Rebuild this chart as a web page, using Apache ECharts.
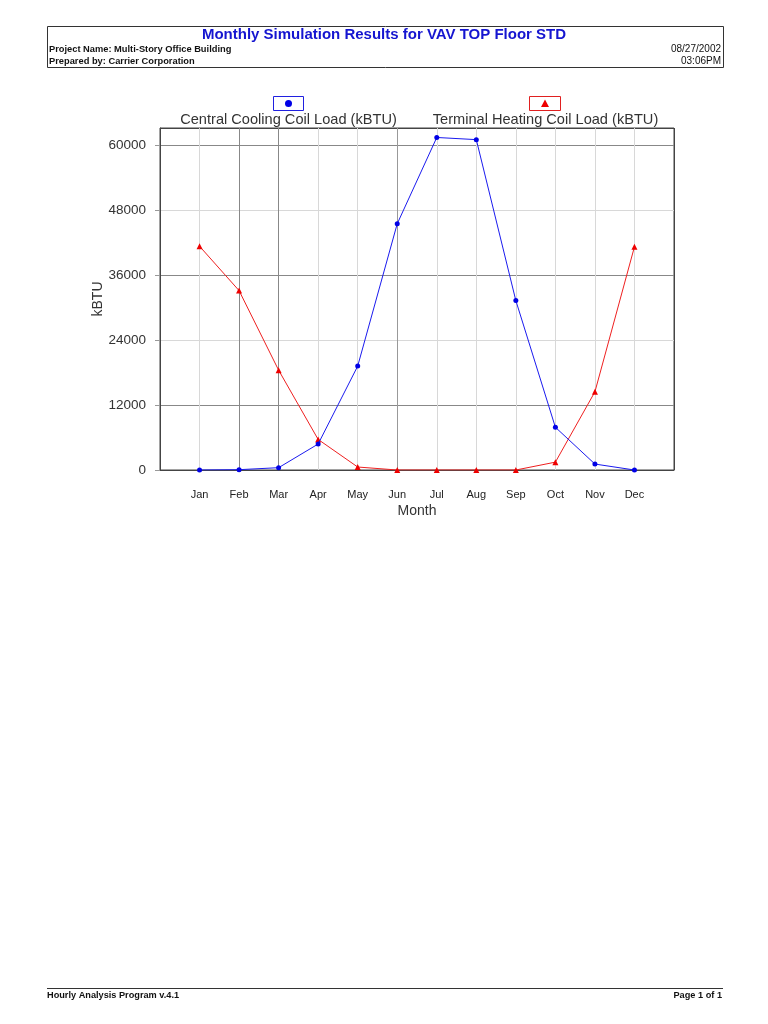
<!DOCTYPE html>
<html>
<head>
<meta charset="utf-8">
<script src="https://cdn.jsdelivr.net/npm/echarts@6/dist/echarts.min.js"></script>
<style>
html,body{margin:0;padding:0;background:#fff;}
#chart{width:768px;height:1024px;}
</style>
</head>
<body>
<div id="chart"></div>
<script>
var months = ['Jan','Feb','Mar','Apr','May','Jun','Jul','Aug','Sep','Oct','Nov','Dec'];
var coolingLoad = [0, 60, 430, 4800, 19200, 45500, 61450, 61050, 31300, 7900, 1100, 0];
var heatingLoad = [41350, 33150, 18450, 5650, 550, 0, 0, 0, 0, 1450, 14450, 41250];
var yTicks = [0, 12000, 24000, 36000, 48000, 60000];

var chart = echarts.init(document.getElementById('chart'), null, {renderer:'canvas'});
var sans = '"Liberation Sans", Arial, sans-serif';

function pts(arr){ return arr.map(function(v,i){ return [i+1, v]; }); }

var option = {
  backgroundColor:'#ffffff',
  animation:false,
  grid:{left:160, right:94, top:128, bottom:554, show:true, borderColor:'#444', borderWidth:1, backgroundColor:'transparent'},
  xAxis:{
    type:'value', min:0, max:13, interval:1,
    name:'Month', nameLocation:'middle', nameGap:34,
    nameTextStyle:{fontFamily:sans, fontSize:14, color:'#333'},
    axisLine:{show:true, lineStyle:{color:'#444', width:1}},
    axisTick:{show:false},
    axisLabel:{fontFamily:sans, fontSize:11, color:'#222', margin:19,
      formatter:function(v){ return months[v-1] || ''; }},
    splitLine:{show:true, lineStyle:{width:1,
      color:['#444','#d8d8d8','#888','#888','#d8d8d8','#d8d8d8','#999','#d8d8d8','#d8d8d8','#d8d8d8','#d8d8d8','#d8d8d8','#d8d8d8','#444']}}
  },
  yAxis:{
    type:'value', min:0, max:63200, interval:12000,
    name:'kBTU', nameLocation:'middle', nameGap:55, nameMoveOverlap:false,
    nameTextStyle:{fontFamily:sans, fontSize:14, color:'#333'},
    axisLine:{show:true, lineStyle:{color:'#444', width:1}},
    axisTick:{show:true, length:5, lineStyle:{color:'#999'}},
    axisLabel:{fontFamily:sans, fontSize:13.5, color:'#333', margin:14, showMaxLabel:false,
      formatter:function(v){ return yTicks.indexOf(v) >= 0 ? String(v) : ''; }},
    splitLine:{show:true, lineStyle:{width:1, color:['#444','#888','#d8d8d8','#888','#d8d8d8','#888','#444']}}
  },
  series:[
    {name:'Central Cooling Coil Load (kBTU)', type:'line', data:pts(coolingLoad),
     symbol:'circle', symbolSize:5, showAllSymbol:true,
     lineStyle:{color:'#1a1aee', width:1}, itemStyle:{color:'#0000e6'}, z:3},
    {name:'Terminal Heating Coil Load (kBTU)', type:'line', data:pts(heatingLoad),
     symbol:'triangle', symbolSize:6, showAllSymbol:true,
     lineStyle:{color:'#ee2020', width:1}, itemStyle:{color:'#ee0000'}, z:2}
  ],
  graphic:[
    {type:'rect', shape:{x:47.5, y:26.5, width:676, height:41}, style:{fill:'none', stroke:'#333', lineWidth:1}},
    {type:'text', x:384, y:35, style:{text:'Monthly Simulation Results for VAV TOP Floor STD', fill:'#1515d0',
      font:'bold 15px ' + sans, textAlign:'center', textVerticalAlign:'middle'}},
    {type:'text', x:49, y:49, style:{text:'Project Name: Multi-Story Office Building', fill:'#111',
      font:'bold 9.3px ' + sans, textAlign:'left', textVerticalAlign:'middle'}},
    {type:'text', x:49, y:61, style:{text:'Prepared by: Carrier Corporation', fill:'#111',
      font:'bold 9.3px ' + sans, textAlign:'left', textVerticalAlign:'middle'}},
    {type:'text', x:721, y:49, style:{text:'08/27/2002', fill:'#111',
      font:'10px ' + sans, textAlign:'right', textVerticalAlign:'middle'}},
    {type:'text', x:721, y:61, style:{text:'03:06PM', fill:'#111',
      font:'10px ' + sans, textAlign:'right', textVerticalAlign:'middle'}},
    // legend
    {type:'rect', shape:{x:273.5, y:96.5, width:30, height:14}, style:{fill:'#fff', stroke:'#2020e0', lineWidth:1}},
    {type:'circle', shape:{cx:288.5, cy:103.5, r:3.5}, style:{fill:'#0000e6'}},
    {type:'text', x:288.5, y:120, style:{text:'Central Cooling Coil Load (kBTU)', fill:'#333',
      font:'14.6px ' + sans, textAlign:'center', textVerticalAlign:'middle'}},
    {type:'rect', shape:{x:529.5, y:96.5, width:31, height:14}, style:{fill:'#fff', stroke:'#e02020', lineWidth:1}},
    {type:'polygon', shape:{points:[[545,99.5],[549,107],[541,107]]}, style:{fill:'#ee0000'}},
    {type:'text', x:545.5, y:120, style:{text:'Terminal Heating Coil Load (kBTU)', fill:'#333',
      font:'14.6px ' + sans, textAlign:'center', textVerticalAlign:'middle'}},
    // footer
    {type:'line', shape:{x1:47, y1:988.5, x2:723, y2:988.5}, style:{stroke:'#333', lineWidth:1}},
    {type:'text', x:47, y:995, style:{text:'Hourly Analysis Program v.4.1', fill:'#111',
      font:'bold 9.2px ' + sans, textAlign:'left', textVerticalAlign:'middle'}},
    {type:'text', x:722, y:995, style:{text:'Page 1 of 1', fill:'#111',
      font:'bold 9.2px ' + sans, textAlign:'right', textVerticalAlign:'middle'}}
  ]
};
chart.setOption(option);
</script>
</body>
</html>
